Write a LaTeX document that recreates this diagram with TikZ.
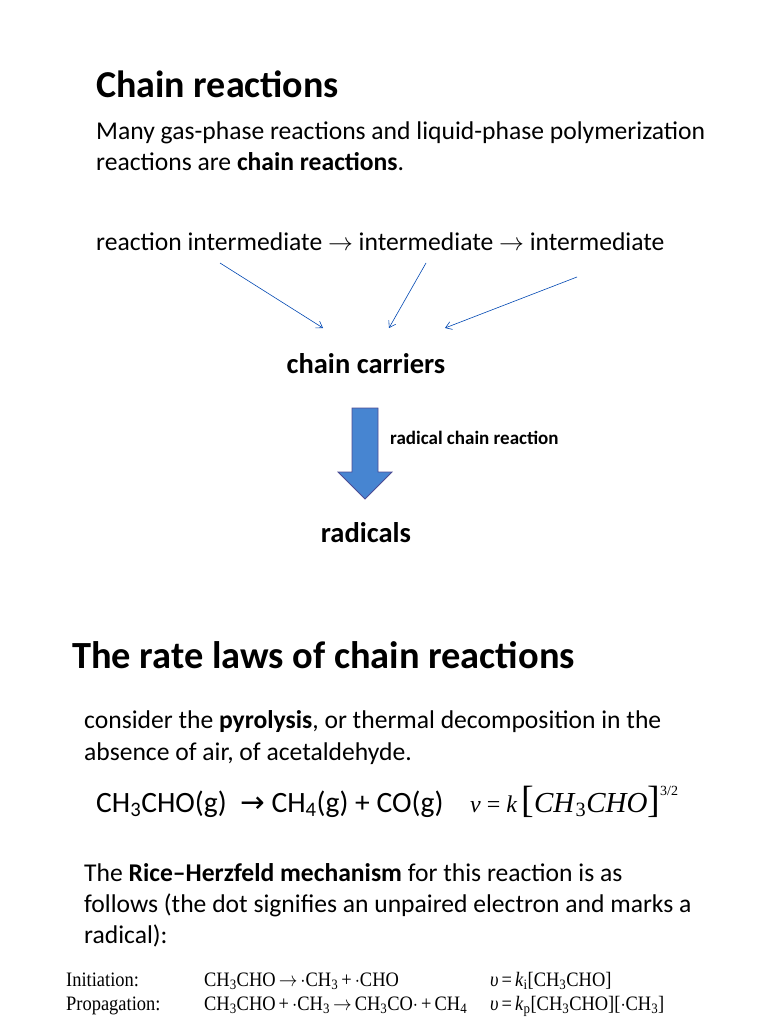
\documentclass[tikz,border=0pt]{standalone}
\usepackage{fontspec}
\usetikzlibrary{arrows.meta}
\setmainfont{Carlito}
\newfontfamily\tms{Liberation Serif}
\newfontfamily\djv{DejaVu Sans}
\begin{document}
\begin{tikzpicture}[x=1pt,y=-1pt,
  txt/.style={anchor=base west,inner sep=0pt,font=\fontsize{25.6}{30}\selectfont},
  ttl/.style={anchor=base west,inner sep=0pt,font=\fontsize{38}{42}\selectfont\bfseries},
  lbl/.style={anchor=base,inner sep=0pt,font=\fontsize{28.5}{32}\selectfont\bfseries},
  tm/.style={anchor=base west,inner sep=0pt,font=\fontsize{20.5}{24}\selectfont\tms,xscale=0.9,transform shape},
  thin/.style={draw=blue!60!cyan!70!black,line width=0.6pt,-{Straight Barb[length=6pt,width=8pt]}}]
\useasboundingbox (0,0) rectangle (768,1024);
\node[ttl] (t1) at (96,98) {Chain reactions};
\node[txt] (p1) at (96,140) {Many gas-phase reactions and liquid-phase polymerization};
\node[txt] (p2) at (96,171) {reactions are \textbf{chain reactions}.};
\node[txt] (ri) at (96,250) {reaction intermediate $\rightarrow$ intermediate $\rightarrow$ intermediate};
\node[lbl] (cc) at (366,373) {chain carriers};
\coordinate (a1) at (220,263); \coordinate (b1) at (323,328);
\coordinate (a2) at (426,263); \coordinate (b2) at (389,328);
\coordinate (a3) at (577,277); \coordinate (b3) at (445,328);
\draw[thin] (a1) -- (b1);
\draw[thin] (a2) -- (b2);
\draw[thin] (a3) -- (b3);
\draw[fill=blue!55!cyan!60!gray!90,draw=blue!40!black!70,line width=0.8pt]
  (352,408) -- (378,408) -- (378,472) -- (392,472) -- (365,499) -- (338,472) -- (352,472) -- cycle;
\node[anchor=base west,inner sep=0pt,font=\fontsize{19}{22}\selectfont\bfseries] (rcr) at (390,444) {radical chain reaction};
\node[lbl] (rad) at (366,542) {radicals};
\node[anchor=base west,inner sep=0pt,font=\fontsize{38.4}{42}\selectfont\bfseries] (t2) at (72,668) {The rate laws of chain reactions};
\node[txt] (c1) at (84,728) {consider the \textbf{pyrolysis}, or thermal decomposition in the};
\node[txt] (c2) at (84,760) {absence of air, of acetaldehyde.};
\node[anchor=base west,inner sep=0pt,font=\fontsize{29.5}{34}\selectfont] (eq) at (96,812) {CH\textsubscript{3}CHO(g) \ {\djv →} CH\textsubscript{4}(g) + CO(g)};
\node[anchor=base west,inner sep=0pt,font=\fontsize{24}{28}\selectfont\tms] (rl) at (470,812) {\textit{v} = \textit{k}\,{\fontsize{38}{38}\selectfont[}{\fontsize{29}{34}\selectfont\textit{CH}\textsubscript{3}\textit{CHO}}{\fontsize{38}{38}\selectfont]}\raisebox{17pt}{\fontsize{14}{16}\selectfont 3/2}};
\node[txt] (r1) at (84,881) {The \textbf{Rice–Herzfeld mechanism} for this reaction is as};
\node[txt] (r2) at (84,912) {follows (the dot signifies an unpaired electron and marks a};
\node[txt] (r3) at (84,943) {radical):};
\node[tm] (i1) at (66,986) {Initiation:};
\node[tm] (i2) at (204,986) {CH\textsubscript{3}CHO\,$\rightarrow$\,$\cdot$CH\textsubscript{3}\,+\,$\cdot$CHO};
\node[tm] (i3) at (490,986) {\textit{υ}\,=\,\textit{k}\textsubscript{i}[CH\textsubscript{3}CHO]};
\node[tm] (q1) at (66,1010) {Propagation:};
\node[tm] (q2) at (204,1010) {CH\textsubscript{3}CHO\,+\,$\cdot$CH\textsubscript{3}\,$\rightarrow$\,CH\textsubscript{3}CO$\cdot$\,+\,CH\textsubscript{4}};
\node[tm] (q3) at (490,1010) {\textit{υ}\,=\,\textit{k}\textsubscript{p}[CH\textsubscript{3}CHO][$\cdot$CH\textsubscript{3}]};
\end{tikzpicture}
\end{document}
